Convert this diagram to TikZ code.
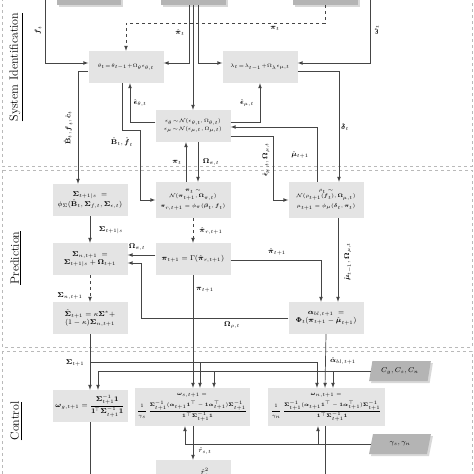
\documentclass[tikz,border=0pt]{standalone}
\usepackage{amsmath}
\usetikzlibrary{calc,shapes,arrows,shadows}
\definecolor{boxgray}{HTML}{E4E4E4}
\definecolor{datagray}{HTML}{B4B4B4}
\definecolor{linegray}{HTML}{454545}
\begin{document}
\begin{tikzpicture}[x=1pt,y=-1pt,
    blk/.style={fill=boxgray,minimum width=75,minimum height=32,inner sep=1pt,align=center,font=\tiny},
    bigblk/.style={blk,font=\scriptsize},
    dat/.style={trapezium,trapezium left angle=75,trapezium right angle=105,trapezium stretches=true,fill=datagray,minimum width=62,minimum height=20,inner sep=1pt,font=\scriptsize,drop shadow={shadow xshift=2pt,shadow yshift=-2pt,fill=gray!60}},
    topbox/.style={fill=datagray,minimum height=24,drop shadow={shadow xshift=2pt,shadow yshift=-2pt,fill=gray!60}},
    wire/.style={draw=linegray,line width=0.7pt},
    arr/.style={wire,-latex},
    lbl/.style={font=\scriptsize,inner sep=1pt},
    secline/.style={draw=gray!55,dashed,line width=0.6pt},
    sectitle/.style={rotate=90,font=\large}]
    \useasboundingbox (0,0) rectangle (474,474);
    \clip (0,0) rectangle (474,474);

    \draw [secline] (2,-20) rectangle (472,166);
    \draw [secline] (2,170) rectangle (472,347);
    \draw [secline] (2,351) rectangle (472,500);

    \node [sectitle] (sysid) at (16,67) {\underline{System Identification}};
    \node [sectitle] (pred) at (16,258) {\underline{Prediction}};
    \node [sectitle] (ctrl) at (16,421) {\underline{Control}};

    \node [topbox,minimum width=64] (tb1) at (89,-7) {};
    \node [topbox,minimum width=65] (tb2) at (193,-7) {};
    \node [topbox,minimum width=65] (tb3) at (325,-7) {};

    \node [blk] (th) at (126,67) {$\theta_t\!=\!\theta_{t-1}\!+\!\Omega_\theta\epsilon_{\theta,t}$};
    \node [blk] (la) at (260,67) {$\lambda_t\!=\!\lambda_{t-1}\!+\!\Omega_\lambda\epsilon_{\mu,t}$};
    \node [blk] (ep) at (193,126) {$\epsilon_\theta\!\sim\!\mathcal{N}(\epsilon_{\theta,t},\Omega_{\theta,t})$\\$\epsilon_\mu\!\sim\!\mathcal{N}(\epsilon_{\mu,t},\Omega_{\mu,t})$};

    \node [bigblk] (s1) at (90,200) {$\boldsymbol{\Sigma}_{t+1|s}\;=$\\$\phi_\Sigma(\hat{\mathbf{B}}_t,\boldsymbol{\Sigma}_{f,t},\boldsymbol{\Sigma}_{\epsilon,t})$};
    \node [blk,minimum height=36] (np) at (193,200) {$\boldsymbol{\pi}_t\sim$\\$\mathcal{N}(\boldsymbol{\pi}_{t+1},\boldsymbol{\Omega}_{\pi,t})$\\[3pt]$\boldsymbol{\pi}_{r,t+1}=\phi_\pi(\boldsymbol{\beta}_t,\boldsymbol{f}_t)$};
    \node [blk,minimum height=36] (nm) at (326,200) {$\rho_t\sim$\\$\mathcal{N}(\rho_{t+1}(\boldsymbol{f}_t),\boldsymbol{\Omega}_{\mu,t})$\\[3pt]$\mu_{t+1}=\phi_\mu(\boldsymbol{\delta}_t,\boldsymbol{\pi}_t)$};
    \node [bigblk] (s2) at (90,259) {$\boldsymbol{\Sigma}_{n,t+1}\;=$\\$\boldsymbol{\Sigma}_{t+1|s}+\boldsymbol{\Omega}_{t+1}$};
    \node [bigblk] (pi) at (193,259) {$\boldsymbol{\pi}_{t+1}=\Gamma(\hat{\boldsymbol{\pi}}_{r,t+1})$};
    \node [bigblk] (s3) at (90,318) {$\hat{\boldsymbol{\Sigma}}_{t+1}=\kappa\boldsymbol{\Sigma}^*+$\\$(1-\kappa)\boldsymbol{\Sigma}_{n,t+1}$};
    \node [bigblk] (om) at (326,318) {$\boldsymbol{\alpha}_{bl,t+1}\;=$\\$\boldsymbol{\Phi}_t(\boldsymbol{\pi}_{t+1}-\hat{\boldsymbol{\mu}}_{t+1})$};

    \node [bigblk] (ph) at (90,406) {$\boldsymbol{\omega}_{g,t+1}=\dfrac{\boldsymbol{\Sigma}^{-1}_{t+1}\mathbf{1}}{\mathbf{1}^{\!\top}\boldsymbol{\Sigma}^{-1}_{t+1}\mathbf{1}}$};
    \node [blk,minimum width=115,minimum height=38] (w1) at (192,407) {$\boldsymbol{\omega}_{s,t+1}=$\\[2pt]$\dfrac{1}{\gamma_s}\,\dfrac{\boldsymbol{\Sigma}^{-1}_{t+1}(\boldsymbol{\alpha}_{t+1}\mathbf{1}^{\top}-\mathbf{1}\boldsymbol{\alpha}^{\top}_{t+1})\boldsymbol{\Sigma}^{-1}_{t+1}}{\mathbf{1}^{\top}\boldsymbol{\Sigma}^{-1}_{t+1}\mathbf{1}}$};
    \node [blk,minimum width=117,minimum height=38] (w2) at (326,407) {$\boldsymbol{\omega}_{n,t+1}=$\\[2pt]$\dfrac{1}{\gamma_n}\,\dfrac{\boldsymbol{\Sigma}^{-1}_{t+1}(\boldsymbol{\alpha}_{t+1}\mathbf{1}^{\top}-\mathbf{1}\boldsymbol{\alpha}^{\top}_{t+1})\boldsymbol{\Sigma}^{-1}_{t+1}}{\mathbf{1}^{\top}\boldsymbol{\Sigma}^{-1}_{t+1}\mathbf{1}}$};
    \node [bigblk,minimum height=36] (bt) at (193,478) {$\hat{\sigma}_s\;=\;\dfrac{\hat{r}^2_s}{\sigma^2_s}$};
    \node [dat] (cb) at (400,371) {$C_g, C_s, C_n$};
    \node [dat] (gb) at (400,444) {$\gamma_s, \gamma_n$};

    \coordinate (fin) at (45,-10);
    \coordinate (win) at (370,-10);
    \coordinate (sg) at (90,362);
    \coordinate (pout) at (90,490);
    \coordinate (wout) at (325,490);

    \draw [arr] (fin) |- ($(th.west)+(0,-4)$);
    \draw [arr] ($(tb2.south)+(-4,0)$) |- ($(th.east)+(0,-4)$);
    \draw [arr] (tb2.south) -- (ep.north);
    \draw [arr] ($(tb2.south)+(5,0)$) |- ($(la.west)+(0,-4)$);
    \draw [arr] (win) |- ($(la.east)+(0,-4)$);
    \draw [arr,dashed] (tb3.south) -- ++(0,18) -| (th.north);
    \draw [arr] ($(th.west)+(0,4)$) -| ($(s1.north)+(-12,0)$);
    \draw [arr] ($(th.south)+(-4,0)$) |- ($(np.west)+(-15,-70)$) |- (np.west);
    \draw [arr] ($(ep.west)+(0,-4)$) -| ($(th.south)+(4,0)$);
    \draw [arr] ($(ep.east)+(0,-4)$) -| (la.south);
    \draw [arr] ($(nm.north)+(-9,0)$) |- ($(ep.east)+(0,1)$);
    \draw [arr] ($(ep.east)+(0,10)$) -| ($(nm.west)+(-15,0)$) -- (nm.west);
    \draw [arr] ($(la.east)+(0,4)$) -| ($(nm.north)+(13,0)$);
    \draw [arr] ($(np.north)+(-7,0)$) -- ($(ep.south)+(-7,0)$);
    \draw [arr] ($(ep.south)+(5,0)$) -- ($(np.north)+(5,0)$);
    \draw [arr,dashed] (np.south) -- (pi.north);
    \draw [arr] (s1.south) -- (s2.north);
    \draw [arr,dashed] (s2.south) -- (s3.north);
    \draw [arr] ($(pi.west)+(0,-4)$) -- ($(s2.east)+(0,-4)$);
    \draw [arr] (om.west) -| ($(s2.east)+(14,4)$) -- ($(s2.east)+(0,4)$);
    \draw [arr] ($(pi.east)+(0,1)$) -| ($(om.north)+(-5,0)$);
    \draw [arr] ($(nm.south)+(12,0)$) -- ($(om.north)+(12,0)$);
    \draw [arr] (s3.south) -- (ph.north);
    \draw [arr] (sg) -| ($(w1.north)+(8,0)$);
    \draw [arr] (sg) -| ($(w2.north)+(-9,0)$);
    \draw [arr] (pi.south) -- ($(w1.north)+(1,0)$);
    \draw [arr] (om.south) -- ($(w2.north)+(-1,0)$);
    \draw [arr] (cb.west) -| ($(ph.north)+(8,0)$);
    \draw [arr] (cb.west) -| ($(w1.north)+(22,0)$);
    \draw [arr] (cb.west) -| ($(w2.north)+(7,0)$);
    \draw [arr] (gb.west) -| ($(w1.south)+(-7,0)$);
    \draw [arr] (gb.west) -| ($(w2.south)+(-8,0)$);
    \draw [arr] ($(w1.south)+(1,0)$) -- (bt.north);
    \draw [wire] (ph.south) -- (pout);
    \draw [wire] ($(w2.south)+(-1,0)$) -- (wout);

    \node [lbl,rotate=90] (lf) at (38,30) {$\boldsymbol{f}_t$};
    \node [lbl] (lpih) at (180,33) {$\hat{\boldsymbol{\pi}}_t$};
    \node [lbl] (lpi) at (275,28) {$\boldsymbol{\pi}_t$};
    \node [lbl,rotate=90] (lw) at (377,30) {$\boldsymbol{\omega}_t$};
    \node [lbl,rotate=90] (lbfc) at (68,128) {$\hat{\mathbf{B}}_t,\boldsymbol{f}_t,\hat{\boldsymbol{c}}_t$};
    \node [lbl] (lbf) at (122,142) {$\hat{\mathbf{B}}_t,\hat{\boldsymbol{f}}_t$};
    \node [lbl] (leth) at (140,103) {$\hat{\boldsymbol{\epsilon}}_{\theta,t}$};
    \node [lbl] (lemu) at (247,103) {$\hat{\boldsymbol{\epsilon}}_{\mu,t}$};
    \node [lbl] (ldel) at (345,127) {$\hat{\boldsymbol{\delta}}_t$};
    \node [lbl] (lmu) at (300,155) {$\hat{\boldsymbol{\mu}}_{t+1}$};
    \node [lbl,rotate=90] (lemo) at (266,160) {$\hat{\boldsymbol{\epsilon}}_{\mu,t},\boldsymbol{\Omega}_{\mu,t}$};
    \node [lbl] (lpit) at (177,162) {$\boldsymbol{\pi}_t$};
    \node [lbl] (lopt) at (211,162) {$\boldsymbol{\Omega}_{\pi,t}$};
    \node [lbl] (lsts) at (111,230) {$\boldsymbol{\Sigma}_{t+1|s}$};
    \node [lbl] (lpir) at (211,231) {$\hat{\boldsymbol{\pi}}_{r,t+1}$};
    \node [lbl] (lopi) at (137,247) {$\boldsymbol{\Omega}_{\pi,t}$};
    \node [lbl] (lpih1) at (277,252) {$\hat{\boldsymbol{\pi}}_{t+1}$};
    \node [lbl,rotate=90] (lmuo) at (348,262) {$\hat{\boldsymbol{\mu}}_{t-1},\boldsymbol{\Omega}_{\mu,t}$};
    \node [lbl] (lpi1) at (205,290) {$\boldsymbol{\pi}_{t+1}$};
    \node [lbl] (lsn) at (70,296) {$\boldsymbol{\Sigma}_{n,t+1}$};
    \node [lbl] (lorho) at (232,325) {$\boldsymbol{\Omega}_{\rho,t}$};
    \node [lbl] (lst) at (75,363) {$\boldsymbol{\Sigma}_{t+1}$};
    \node [lbl] (lal) at (343,361) {$\hat{\boldsymbol{\alpha}}_{bl,t+1}$};
    \node [lbl] (lrs) at (205,451) {$\hat{r}_{s,t}$};
\end{tikzpicture}
\end{document}
